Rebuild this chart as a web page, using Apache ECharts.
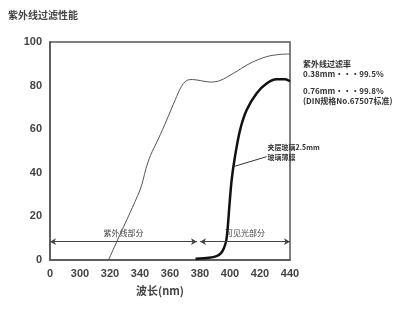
<!DOCTYPE html>
<html><head><meta charset="utf-8">
<script src="https://cdn.jsdelivr.net/npm/echarts@6/dist/echarts.min.js"></script>
<style>html,body{margin:0;padding:0;background:#fff}#c{width:400px;height:309px}</style>
</head><body><div id="c"></div>
<script>
const title = '紫外线过滤性能';
const xName = '波长(nm)';
const xTicks = [280, 300, 320, 340, 360, 380, 400, 420, 440];
const xTickLabels = ['0', '300', '320', '340', '360', '380', '400', '420', '440'];
const yTicks = [0, 20, 40, 60, 80, 100];
// thin curve (reference glass)
const thinX = [319, 324.5, 333.3, 340, 342, 344, 347, 352.2, 357.8, 363.5, 367.5, 371, 375, 381, 387, 393.3, 402.2, 413.3, 424.4, 433.3, 440];
const thinY = [0, 8.4, 21.6, 32.1, 36.5, 42, 48, 55.5, 64.2, 73.5, 79.5, 82.3, 82.8, 82.2, 81.6, 82.3, 85.6, 90.2, 93.3, 94.3, 94.5];
// thick curve (laminated glass 2.5mm + film)
const thickX = [377, 386, 391, 394, 396, 397.5, 398.5, 399.5, 401.1, 403.3, 406.7, 411.1, 417.8, 424.4, 431.1, 436.7, 440];
const thickY = [0.6, 1, 1.8, 3.2, 5.5, 9, 15, 24, 36.7, 47.4, 59.6, 68.8, 76.5, 81, 82.9, 82.9, 82];
// region arrows
const uvRange = [280, 378];
const visRange = [380, 440];
const arrowY = 8.4;
const uvLabel = '紫外线部分';
const visLabel = '可见光部分';
const noteLines = ['夹层玻璃2.5mm', '玻璃薄膜'];
const notePointer = [[402.2, 42.8], [424.4, 47.4]];
const sideText = ['紫外线过滤率', '0.38mm・・・99.5%', '0.76mm・・・99.8%', '(DIN规格No.67507标准)'];

const zip = (xs, ys) => xs.map((x, i) => [x, ys[i]]);
const chart = echarts.init(document.getElementById('c'));
const cjk = '"Noto Sans CJK SC", sans-serif';
const latin = '"Liberation Sans", Arial, "Noto Sans CJK SC", sans-serif';
const arrowLine = r => ([{ coord: [r[0], arrowY] }, { coord: [r[1], arrowY] }]);
chart.setOption({
  animation: false,
  title: { text: title, left: 3, top: 5, textStyle: { fontSize: 10, fontWeight: 'bold', color: '#444', fontFamily: cjk } },
  grid: { left: 50, top: 42, right: 110, bottom: 49, show: true, borderColor: '#555', borderWidth: 1.5, backgroundColor: 'transparent' },
  xAxis: {
    type: 'value', min: 280, max: 440, interval: 20,
    name: xName, nameLocation: 'middle', nameGap: 25,
    nameTextStyle: { fontSize: 11, fontWeight: 'bold', color: '#444', fontFamily: cjk, padding: [0, 20, 0, 0] },
    axisLine: { show: true, lineStyle: { color: '#555', width: 1.5 } },
    axisTick: { show: false }, splitLine: { show: false },
    axisLabel: { margin: 8, fontSize: 11, fontWeight: 'bold', color: '#444', fontFamily: latin,
      formatter: v => { const i = xTicks.indexOf(v); return i >= 0 ? xTickLabels[i] : ''; } }
  },
  yAxis: {
    type: 'value', min: 0, max: 100, interval: 20,
    axisLine: { show: true, lineStyle: { color: '#555', width: 1.5 } },
    axisTick: { show: false }, splitLine: { show: false },
    axisLabel: { margin: 8, fontSize: 11, fontWeight: 'bold', color: '#444', fontFamily: latin,
      formatter: v => yTicks.includes(v) ? String(v) : '' }
  },
  series: [
    { type: 'line', data: zip(thinX, thinY), smooth: 0.3, showSymbol: false,
      lineStyle: { color: '#555', width: 1 },
      markLine: { silent: true, animation: false, symbol: ['arrow', 'arrow'], symbolSize: [5, 6],
        lineStyle: { color: '#444', width: 1, type: 'solid' }, label: { show: false },
        data: [arrowLine(uvRange), arrowLine(visRange)] } },
    { type: 'line', data: zip(thickX, thickY), smooth: 0.3, showSymbol: false,
      lineStyle: { color: '#111', width: 2.5 },
      markLine: { silent: true, animation: false, symbol: ['none', 'none'],
        lineStyle: { color: '#333', width: 1, type: 'solid' }, label: { show: false },
        data: [[{ coord: notePointer[0] }, { coord: notePointer[1] }]] } }
  ]
});
const toPx = pt => chart.convertToPixel({ gridIndex: 0 }, pt);
const graphics = [];
[[uvRange, uvLabel], [visRange, visLabel]].forEach(([r, t]) => {
  const a = toPx([(r[0] + r[1]) / 2, arrowY]);
  graphics.push({ type: 'text', x: a[0], y: a[1] - 9,
    style: { text: t, fontSize: 8, fontFamily: cjk, fill: '#444', align: 'center', verticalAlign: 'middle' } });
});
const p = toPx(notePointer[1]);
noteLines.forEach((t, i) => graphics.push({ type: 'text', x: p[0] + 1, y: p[1] - 13 + i * 10,
  style: { text: t, fontSize: 7, fontFamily: cjk, fill: '#333', fontWeight: 'bold' } }));
const sideY = [60, 70, 87, 97];
sideText.forEach((t, i) => graphics.push({ type: 'text', x: 303, y: sideY[i],
  style: { text: t, fontSize: 8, fontFamily: cjk, fill: '#333', fontWeight: 'bold' } }));
chart.setOption({ graphic: graphics });
</script></body></html>
